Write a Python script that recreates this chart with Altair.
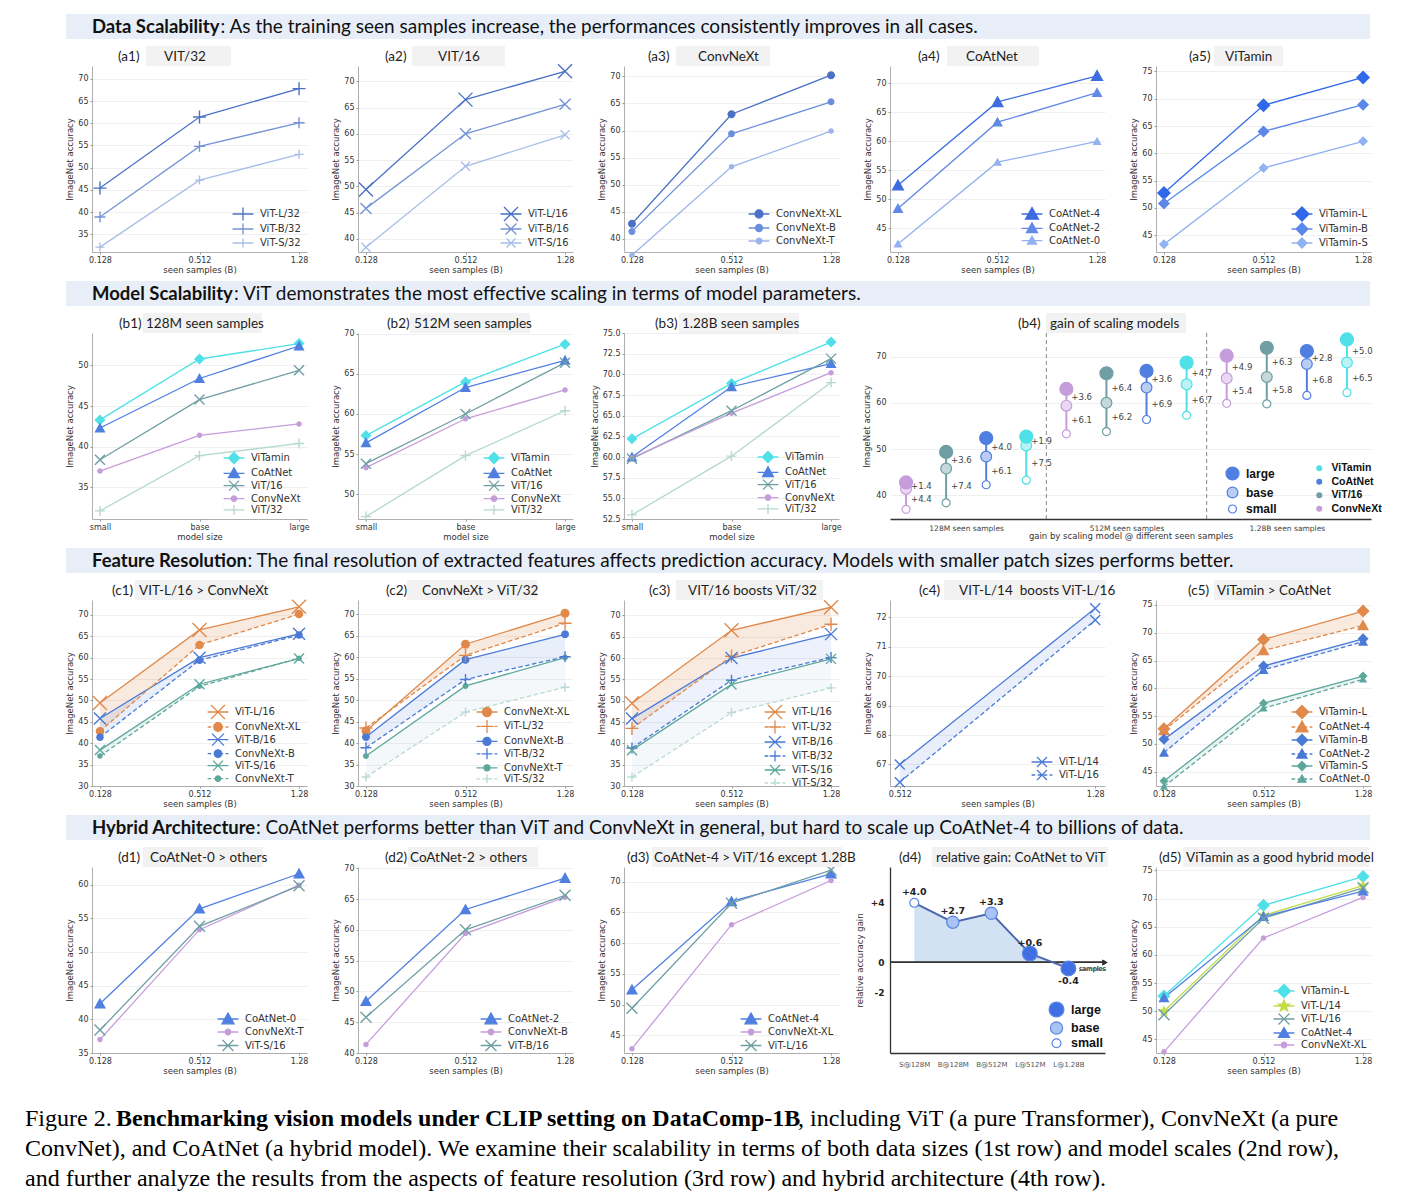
import json
import math

import altair as alt
import pandas as pd

# ---------------------------------------------------------------------------
# Data
# ---------------------------------------------------------------------------
SEEN = ["0.128", "0.512", "1.28"]
SEEN_LATE = ["0.512", "1.28"]
MODEL_SIZE = ["small", "base", "large"]

# (a) data scalability
A1_VIT32 = {"ViT-L/32": [45.4, 61.4, 67.8], "ViT-B/32": [38.9, 54.8, 60.1], "ViT-S/32": [32.1, 47.2, 53.0]}
A2_VIT16 = {"ViT-L/16": [49.4, 66.5, 71.9], "ViT-B/16": [45.8, 60.0, 65.6], "ViT-S/16": [38.4, 53.8, 59.8]}
A3_CONVNEXT = {"ConvNeXt-XL": [42.8, 63.0, 70.2], "ConvNeXt-B": [41.4, 59.4, 65.3], "ConvNeXt-T": [37.0, 53.3, 59.9]}
A4_COATNET = {"CoAtNet-4": [52.4, 66.8, 71.3], "CoAtNet-2": [48.4, 63.3, 68.4], "CoAtNet-0": [42.3, 56.4, 60.0]}
A5_VITAMIN = {"ViTamin-L": [52.7, 68.8, 73.9], "ViTamin-B": [50.8, 64.0, 68.9], "ViTamin-S": [43.3, 57.3, 62.2]}

# (b) model scalability: small / base / large
B_FAMILIES = ["ViTamin", "CoAtNet", "ViT/16", "ConvNeXt", "ViT/32"]
B1_128M = [[43.3, 50.8, 52.7], [42.3, 48.4, 52.4], [38.4, 45.8, 49.4], [37.0, 41.4, 42.8], [32.1, 38.9, 40.4]]
B2_512M = [[57.3, 64.0, 68.7], [56.4, 63.3, 66.7], [53.8, 60.0, 66.4], [53.3, 59.4, 63.0], [47.2, 54.8, 60.4]]
B3_128B = [[62.2, 68.9, 73.9], [60.0, 68.5, 71.3], [59.8, 65.6, 71.9], [59.9, 65.3, 70.2], [53.0, 60.1, 69.0]]

# (b4) gain of scaling models
B4_MODELS = ["ConvNeXt", "ViT/16", "CoAtNet", "ViTamin"]
B4_SEEN = ["128M seen samples", "512M seen samples", "1.28B seen samples"]
B4_SMALL = [[37.0, 38.4, 42.3, 43.3], [53.3, 53.8, 56.4, 57.3], [59.9, 59.8, 61.6, 62.2]]
B4_BASE = [[41.4, 45.8, 48.4, 50.8], [59.4, 60.0, 63.3, 64.0], [65.3, 65.6, 68.4, 68.7]]
B4_LARGE = [[42.8, 49.4, 52.4, 52.7], [63.0, 66.4, 66.9, 68.7], [70.2, 71.9, 71.2, 73.7]]

# (c) feature resolution
VIT_L16 = [49.4, 66.5, 71.9]
VIT_B16 = [45.8, 60.0, 65.6]
VIT_S16 = [38.4, 53.8, 59.8]
VIT_L32 = [43.5, 60.4, 67.9]
VIT_B32 = [38.9, 54.8, 60.1]
VIT_S32 = [32.1, 47.2, 53.0]
CNX_XL = [42.8, 63.0, 70.2]
CNX_B = [41.4, 59.4, 65.3]
CNX_T = [37.0, 53.3, 59.9]
C4_VIT_L14 = [67.0, 72.3]
C4_VIT_L16 = [66.4, 71.9]
VITAMIN_L = [52.7, 68.8, 73.9]
VITAMIN_B = [50.8, 64.0, 68.9]
VITAMIN_S = [43.3, 57.3, 62.2]
COAT_4 = [52.4, 66.8, 71.3]
COAT_2 = [48.4, 63.3, 68.4]
COAT_0 = [42.3, 56.4, 61.6]

# (d) hybrid architecture
VIT_L14 = [50.0, 67.0, 72.3]
D4_POINTS = ["S@128M", "B@128M", "B@512M", "L@512M", "L@1.28B"]
D4_GAIN = [4.0, 2.7, 3.3, 0.6, -0.4]
D4_STAGE = ["small", "base", "base", "large", "large"]

HEADERS = [
    ("Data Scalability", ": As the training seen samples increase, the performances consistently improves in all cases."),
    ("Model Scalability", ": ViT demonstrates the most effective scaling in terms of model parameters."),
    ("Feature Resolution", ": The final resolution of extracted features affects prediction accuracy. Models with smaller patch sizes performs better."),
    ("Hybrid Architecture", ": CoAtNet performs better than ViT and ConvNeXt in general, but hard to scale up CoAtNet-4 to billions of data."),
]
CAPTION_L1 = ["Figure 2. ", "Benchmarking vision models under CLIP setting on DataComp-1B",
              ", including ViT (a pure Transformer), ConvNeXt (a pure"]
CAPTION_L2 = "ConvNet), and CoAtNet (a hybrid model). We examine their scalability in terms of both data sizes (1st row) and model scales (2nd row),"
CAPTION_L3 = "and further analyze the results from the aspects of feature resolution (3rd row) and hybrid architecture (4th row)."

# ---------------------------------------------------------------------------
# Style
# ---------------------------------------------------------------------------
PW, PH = 215, 186
GAP = 51
B4_W = 481
TITLE_FONT = "Lato"
TICK_FONT = "DejaVu Sans"

L_BLUE, M_BLUE, S_BLUE = "#4a71c6", "#7593d6", "#a9bee8"
T_BLUE = ["#3d6de0", "#6189e6", "#93b1f0"]
D_BLUE = ["#2f68e8", "#5b88e8", "#91b2f2"]
VITAMIN_C, COATNET_C, VIT16_C, CONVNEXT_C, VIT32_C = "#4fe1e7", "#4f7fe0", "#6f9fa4", "#c69ddb", "#b5d9cc"
ORANGE, BLUE, TEAL, PALE = "#e0894b", "#4a7ad6", "#5ea79c", "#b8dad2"
STAR_C = "#c2dc4b"

FILLED_KINDS = {"o", "^", "D", "*"}
LEG_UNIT = 4.0  # px per path unit for legend symbols of size 64


def marker_path(kind, r):
    if kind == "x":
        return f"M{-r:.3f},{-r:.3f}L{r:.3f},{r:.3f}M{-r:.3f},{r:.3f}L{r:.3f},{-r:.3f}"
    if kind == "+":
        return f"M{-r:.3f},0L{r:.3f},0M0,{-r:.3f}L0,{r:.3f}"
    if kind == "o":
        return f"M{r:.3f},0A{r:.3f},{r:.3f},0,1,1,{-r:.3f},0A{r:.3f},{r:.3f},0,1,1,{r:.3f},0Z"
    if kind == "^":
        return f"M0,{-r:.3f}L{r:.3f},{0.8 * r:.3f}L{-r:.3f},{0.8 * r:.3f}Z"
    if kind == "D":
        return f"M0,{-r:.3f}L{r:.3f},0L0,{r:.3f}L{-r:.3f},0Z"
    pts = []
    for k in range(10):
        ang = -math.pi / 2 + k * math.pi / 5
        rr = r if k % 2 == 0 else r * 0.45
        pts.append(f"{rr * math.cos(ang):.3f},{rr * math.sin(ang):.3f}")
    return "M" + "L".join(pts) + "Z"


def legend_path(kind, d, dashed):
    if dashed:
        line = "M-2.6,0L-1.7,0M-1.1,0L-0.2,0M0.4,0L1.3,0M1.9,0L2.6,0"
    else:
        line = "M-2.6,0L2.6,0"
    return line + marker_path(kind, d / 2 / LEG_UNIT)


def tint(hex_color, amount):
    h = hex_color.lstrip("#")
    rgb = [int(h[i:i + 2], 16) for i in (0, 2, 4)]
    rgb = [round(c + (255 - c) * amount) for c in rgb]
    return "#%02x%02x%02x" % tuple(rgb)


def title_layers(spec):
    """Panel heading: '(tag)' followed by the name on a light grey tab."""
    tag, name, tag_x, name_x, box_x0, box_x1 = spec
    d = pd.DataFrame({"tag": [f"({tag})"], "name": [name]})
    tab = alt.Chart(d).mark_rect(color="#f2f2f2").encode(
        x=alt.value(box_x0), x2=alt.value(box_x1), y=alt.value(-20), y2=alt.value(0))
    style = dict(align="left", baseline="middle", font=TITLE_FONT, fontSize=13.5, color="#1e1e1e")
    t_tag = alt.Chart(d).mark_text(**style).encode(x=alt.value(tag_x), y=alt.value(-9.5), text="tag:N")
    t_name = alt.Chart(d).mark_text(**style).encode(x=alt.value(name_x), y=alt.value(-9.5), text="name:N")
    return [tab, t_tag, t_name]


def x_axis(title):
    return alt.Axis(title=title, labelAngle=0, grid=False, tickSize=2, labelPadding=2, titlePadding=1)


def y_axis(values, fmt="d", title="ImageNet accuracy"):
    return alt.Axis(values=values, format=fmt, title=title, grid=True, tickSize=2, labelPadding=2, titlePadding=3)


def line_panel(title, xcats, xtitle, series, ydom, yticks, leg, fills=(), yfmt="d", xpad=0.08, rowpad=-2.5):
    """series items: (name, values, colour, dashed, marker, marker diameter px)."""
    names = [s[0] for s in series]
    values = {s[0]: s[1] for s in series}
    recs = []
    for name, vals, color, dashed, kind, d in series:
        for xc, v in zip(xcats, vals):
            recs.append({"x": xc, "y": v, "series": name, "dashed": dashed,
                         "filled": kind in FILLED_KINDS, "shape": marker_path(kind, 1.0), "msize": d * d})
    df = pd.DataFrame(recs)
    cscale = alt.Scale(domain=names, range=[s[2] for s in series])
    x = alt.X("x:N", sort=xcats, scale=alt.Scale(type="point", padding=xpad), axis=x_axis(xtitle))
    y = alt.Y("y:Q", scale=alt.Scale(domain=ydom, nice=False, zero=False), axis=y_axis(yticks, yfmt))

    layers = []
    for upper, lower, color, op in fills:
        fd = pd.DataFrame({"x": xcats, "y": values[upper], "y2": values[lower]})
        layers.append(alt.Chart(fd).mark_area(color=color, opacity=op).encode(x=x, y=y, y2="y2:Q"))

    layers.append(alt.Chart(df).transform_filter("!datum.dashed").mark_line(strokeWidth=1.3).encode(
        x=x, y=y, color=alt.Color("series:N", scale=cscale, legend=None)))
    if any(s[3] for s in series):
        layers.append(alt.Chart(df).transform_filter("datum.dashed").mark_line(
            strokeWidth=1.3, strokeDash=[4.5, 2.5]).encode(
            x=x, y=y, color=alt.Color("series:N", scale=cscale, legend=None)))
    pt = dict(x=x, y=y, color=alt.Color("series:N", scale=cscale, legend=None),
              shape=alt.Shape("shape:N", scale=None), size=alt.Size("msize:Q", scale=None))
    layers.append(alt.Chart(df).transform_filter("datum.filled").mark_point(filled=True, opacity=1).encode(**pt))
    layers.append(alt.Chart(df).transform_filter("!datum.filled").mark_point(
        filled=False, opacity=1, strokeWidth=1.4).encode(**pt))

    # legend: a line sample with its marker, carried by a transparent layer
    cx, cy = leg
    legend = alt.Legend(title=None, orient="none", legendX=cx - 6, legendY=cy - 7, symbolSize=64,
                        symbolStrokeWidth=1.3, symbolOpacity=1, labelFontSize=10, labelOffset=12,
                        rowPadding=rowpad, padding=2)
    leg_df = df.drop_duplicates("series")
    layers.append(alt.Chart(leg_df).mark_point(filled=False, opacity=0).encode(
        x=x, y=y,
        stroke=alt.Stroke("series:N", scale=alt.Scale(domain=names, range=[s[2] for s in series]), legend=legend),
        fill=alt.Fill("series:N", scale=alt.Scale(
            domain=names, range=[s[2] if s[4] in FILLED_KINDS else "transparent" for s in series]), legend=legend),
        shape=alt.Shape("series:N", scale=alt.Scale(
            domain=names, range=[legend_path(s[4], s[5], s[3]) for s in series]), legend=legend),
    ))
    layers += title_layers(title)
    return alt.layer(*layers).resolve_scale(stroke="independent", fill="independent", shape="independent").properties(
        width=PW, height=PH)


def trio(d, colors, kind, sizes):
    return [(n, v, c, False, kind, s) for (n, v), c, s in zip(d.items(), colors, sizes)]


def family_series(rows):
    styles = [(VITAMIN_C, "D", 11), (COATNET_C, "^", 11), (VIT16_C, "x", 10), (CONVNEXT_C, "o", 5.5), (VIT32_C, "+", 10)]
    return [(n, v, c, False, k, s) for n, v, (c, k, s) in zip(B_FAMILIES, rows, styles)]


def gain_panel():
    order = ["ViTamin", "CoAtNet", "ViT/16", "ConvNeXt"]
    mcol = {"ConvNeXt": CONVNEXT_C, "ViT/16": VIT16_C, "CoAtNet": COATNET_C, "ViTamin": VITAMIN_C}
    pts, stems, labels = [], [], []
    for g in range(len(B4_SEEN)):
        for m, model in enumerate(B4_MODELS):
            pos = len(B4_MODELS) * g + m
            s, b, l = B4_SMALL[g][m], B4_BASE[g][m], B4_LARGE[g][m]
            for stage, v, fc in (("small", s, "#ffffff"), ("base", b, tint(mcol[model], 0.6)), ("large", l, mcol[model])):
                pts.append({"pos": pos, "y": v, "model": model, "stage": stage, "fillc": fc})
            stems.append({"pos": pos, "lo": s, "hi": l, "model": model})
            labels.append({"pos": pos, "y": (b + l) / 2, "text": f"+{l - b:.1f}"})
            labels.append({"pos": pos, "y": (s + b) / 2, "text": f"+{b - s:.1f}"})
    n = len(B4_MODELS)
    dividers = pd.DataFrame({"pos": [n * g - 0.5 for g in range(1, len(B4_SEEN))]})
    centers = [n * g + (n - 1) / 2 for g in range(len(B4_SEEN))]
    label_expr = "%s[round((datum.value - %s) / %d)]" % (json.dumps(B4_SEEN), centers[0], n)
    xsc = alt.Scale(domain=[-0.4, 11.6], nice=False, zero=False)
    xax = alt.Axis(values=centers, labelExpr=label_expr, title="gain by scaling model @ different seen samples",
                   grid=False, ticks=False, domainColor="#333", domainWidth=1.6, labelFontSize=7.5,
                   labelColor="#444", labelPadding=5, titlePadding=0)
    ysc = alt.Scale(domain=[34.9, 75.1], nice=False, zero=False)
    yax = alt.Axis(values=[40, 50, 60, 70], title="ImageNet accuracy", grid=True, ticks=False, domain=False,
                   labelPadding=4, titlePadding=4)
    x = alt.X("pos:Q", scale=xsc, axis=xax)
    stages = ["large", "base", "small"]
    size_scale = alt.Scale(domain=stages, range=[170, 64, 30])
    pdf = pd.DataFrame(pts)

    div = alt.Chart(dividers).mark_rule(strokeDash=[4, 3], color="#888", strokeWidth=1).encode(x=x)
    stem = alt.Chart(pd.DataFrame(stems)).mark_rule(strokeWidth=2).encode(
        x=x, y=alt.Y("lo:Q", scale=ysc, axis=yax), y2="hi:Q",
        color=alt.Color("model:N", scale=alt.Scale(domain=order, range=[mcol[m] for m in order]), legend=None))
    dots = alt.Chart(pdf).mark_point(filled=True, opacity=1, strokeWidth=1.2, shape="circle").encode(
        x=x, y=alt.Y("y:Q", scale=ysc, axis=yax),
        fill=alt.Fill("fillc:N", scale=None),
        stroke=alt.Stroke("model:N", scale=alt.Scale(domain=order, range=[mcol[m] for m in order]), legend=None),
        size=alt.Size("stage:O", sort=stages, scale=size_scale, legend=None))
    text = alt.Chart(pd.DataFrame(labels)).mark_text(align="left", baseline="middle", dx=5, fontSize=8.5,
                                                     font=TICK_FONT, color="#444").encode(
        x=x, y=alt.Y("y:Q", scale=ysc, axis=yax), text="text:N")

    model_leg = alt.Legend(title=None, orient="none", legendX=424, legendY=130, symbolType="circle",
                           symbolSize=36, symbolStrokeWidth=0, symbolOpacity=1, labelFont="Liberation Sans",
                           labelFontWeight="bold", labelFontSize=10.5, labelColor="#111", rowPadding=2.5,
                           labelOffset=7)
    stage_leg = alt.Legend(title=None, orient="none", legendX=335, legendY=133, symbolType="circle",
                           symbolStrokeWidth=1.2, symbolOpacity=1,
                           labelFont="Liberation Sans", labelFontWeight="bold", labelFontSize=12,
                           labelColor="#111", rowPadding=1, labelOffset=6)
    leg_models = alt.Chart(pdf.drop_duplicates("model")).mark_point(filled=True, opacity=0, shape="circle").encode(
        x=x, y=alt.Y("y:Q", scale=ysc, axis=yax),
        fill=alt.Fill("model:N", scale=alt.Scale(domain=order, range=[mcol[m] for m in order]), legend=model_leg))
    leg_stages = alt.Chart(pdf.drop_duplicates("stage")).mark_point(filled=True, opacity=0, shape="circle").encode(
        x=x, y=alt.Y("y:Q", scale=ysc, axis=yax),
        fill=alt.Fill("stage:N", scale=alt.Scale(domain=stages, range=[COATNET_C, tint(COATNET_C, 0.6), "#ffffff"]),
                      legend=stage_leg),
        stroke=alt.Stroke("stage:N", scale=alt.Scale(domain=stages, range=[COATNET_C] * 3), legend=stage_leg),
        size=alt.Size("stage:O", sort=stages, scale=size_scale, legend=stage_leg))
    heading = title_layers(("b4", "gain of scaling models", 128, 160, 156, 296))
    return alt.layer(div, stem, dots, text, leg_stages, leg_models, *heading).resolve_scale(
        fill="independent", size="independent", stroke="independent").properties(width=B4_W, height=PH)


def relgain_panel():
    xs = list(range(len(D4_GAIN)))
    pos_area, neg_area = [], []
    for i, g in enumerate(D4_GAIN):
        if i > 0 and (D4_GAIN[i - 1] >= 0) != (g >= 0):
            g0 = D4_GAIN[i - 1]
            xc = (i - 1) + g0 / (g0 - g)
            pos_area.append({"x": xc, "y": 0.0})
            neg_area.append({"x": xc, "y": 0.0})
        (pos_area if g >= 0 else neg_area).append({"x": i, "y": g})
    stages = ["large", "base", "small"]
    blue, stroke, light = "#3f6fe2", "#5b86e5", "#a9c3f2"
    fills = {"large": blue, "base": light, "small": "#ffffff"}
    pts = pd.DataFrame({"x": xs, "y": D4_GAIN, "stage": D4_STAGE, "fillc": [fills[s] for s in D4_STAGE],
                        "text": [f"{g:+.1f}" for g in D4_GAIN], "up": [g >= 0 for g in D4_GAIN]})
    xsc = alt.Scale(domain=[-0.63, 4.95], nice=False, zero=False)
    xax = alt.Axis(values=xs, labelExpr="%s[datum.value]" % json.dumps(D4_POINTS), title=None, grid=False,
                   ticks=False, domainColor="#333", domainWidth=1.3, labelFontSize=7, labelColor="#555",
                   labelPadding=7)
    ysc = alt.Scale(domain=[-6.07, 6.4], nice=False, zero=False)
    yax = alt.Axis(values=[-2, 0, 4], labelExpr="datum.value > 0 ? '+' + datum.value : '' + datum.value",
                   title="relative accuracy gain", grid=False, ticks=False, domainColor="#333", domainWidth=1.3,
                   labelFontWeight="bold", labelFontSize=9, labelColor="#222", labelPadding=6, titlePadding=6)
    x = alt.X("x:Q", scale=xsc, axis=xax)
    y = alt.Y("y:Q", scale=ysc, axis=yax)
    size_scale = alt.Scale(domain=stages, range=[220, 80, 34])
    a_pos = alt.Chart(pd.DataFrame(pos_area)).mark_area(color="#d3e2f3").encode(x=x, y=y, y2=alt.datum(0))
    a_neg = alt.Chart(pd.DataFrame(neg_area)).mark_area(color="#fbd7c0").encode(x=x, y=y, y2=alt.datum(0))
    zero = alt.Chart(pts).mark_rule(color="#333", strokeWidth=1.2).encode(
        x=alt.value(0), x2=alt.value(PW - 1), y=alt.datum(0))
    arrow = alt.Chart(pts).mark_point(shape="triangle-right", filled=True, color="#333", size=30, opacity=1).encode(
        x=alt.value(PW), y=alt.datum(0))
    samples = alt.Chart(pts).mark_text(align="right", baseline="top", dy=4, fontSize=6.5, color="#666",
                                       font=TICK_FONT).encode(x=alt.value(PW + 1), y=alt.datum(0),
                                                              text=alt.value("samples"))
    line = alt.Chart(pts).mark_line(color="#4d67ae", strokeWidth=2).encode(x=x, y=y)
    dots = alt.Chart(pts).mark_point(filled=True, opacity=1, shape="circle", strokeWidth=1.2, stroke=stroke).encode(
        x=x, y=y, fill=alt.Fill("fillc:N", scale=None),
        size=alt.Size("stage:O", sort=stages, scale=size_scale, legend=None))
    lab_up = alt.Chart(pts).transform_filter("datum.up").mark_text(
        baseline="bottom", dy=-6, fontSize=9.5, fontWeight="bold", color="#222", font=TICK_FONT).encode(
        x=x, y=y, text="text:N")
    lab_dn = alt.Chart(pts).transform_filter("!datum.up").mark_text(
        baseline="top", dy=8, fontSize=9.5, fontWeight="bold", color="#222", font=TICK_FONT).encode(
        x=x, y=y, text="text:N")
    stage_leg = alt.Legend(title=None, orient="bottom-right", offset=2, symbolType="circle", symbolStrokeWidth=1.2,
                           symbolOpacity=1, labelFont="Liberation Sans",
                           labelFontWeight="bold", labelFontSize=12.5, labelColor="#111", rowPadding=-1, labelOffset=6)
    leg_layer = alt.Chart(pts.drop_duplicates("stage")).mark_point(filled=True, opacity=0, shape="circle").encode(
        x=x, y=y,
        fill=alt.Fill("stage:N", scale=alt.Scale(domain=stages, range=[blue, light, "#ffffff"]), legend=stage_leg),
        stroke=alt.Stroke("stage:N", scale=alt.Scale(domain=stages, range=[stroke] * 3), legend=stage_leg),
        size=alt.Size("stage:O", sort=stages, scale=size_scale, legend=stage_leg))
    heading = title_layers(("d4", "relative gain: CoAtNet to ViT", 9, 46, 42, 218))
    return alt.layer(a_pos, a_neg, zero, arrow, samples, line, dots, lab_up, lab_dn, leg_layer, *heading).resolve_scale(
        fill="independent", size="independent", stroke="independent").properties(width=PW, height=PH)


BAND_LEFT, BAND_RIGHT, BAND_H = -26, 1278, 25


def header(bold, rest, rest_x):
    d = pd.DataFrame({"b": [bold], "r": [rest]})
    band = alt.Chart(d).mark_rect(color="#e8eef8").encode(
        x=alt.value(BAND_LEFT), x2=alt.value(BAND_RIGHT), y=alt.value(0), y2=alt.value(BAND_H))
    t1 = alt.Chart(d).mark_text(align="left", baseline="middle", font=TITLE_FONT, fontSize=18.5,
                                fontWeight="bold", color="#111").encode(x=alt.value(0), y=alt.value(12.5), text="b:N")
    t2 = alt.Chart(d).mark_text(align="left", baseline="middle", font=TITLE_FONT, fontSize=19,
                                color="#111").encode(x=alt.value(rest_x), y=alt.value(12.5), text="r:N")
    return alt.layer(band, t1, t2).properties(width=BAND_RIGHT, height=BAND_H)


def caption():
    def line(text, x, y, bold=False):
        return alt.Chart(pd.DataFrame({"t": [text]})).mark_text(
            align="left", baseline="alphabetic", font="Liberation Serif", fontSize=24,
            fontWeight="bold" if bold else "normal", color="#000").encode(
            x=alt.value(x), y=alt.value(y), text="t:N")
    return alt.layer(
        line(CAPTION_L1[0], -67, 44), line(CAPTION_L1[1], 24, 44, True), line(CAPTION_L1[2], 706, 44),
        line(CAPTION_L2, -67, 74), line(CAPTION_L3, -67, 104),
    ).properties(width=BAND_RIGHT, height=108)


IND = dict(color="independent", stroke="independent", fill="independent", size="independent",
           shape="independent", opacity="independent", fillOpacity="independent", strokeDash="independent")


def row(*panels):
    return alt.hconcat(*panels, spacing=GAP, bounds="flush").resolve_scale(**IND)


# ---- row 1
a_sizes = {"+": [13, 11, 9], "x": [14, 11, 9], "o": [8, 7, 5.5], "^": [13, 11, 9], "D": [14, 12, 10]}
row1 = row(
    line_panel(("a1", "VIT/32", 26, 72, 54, 139), SEEN, "seen samples (B)",
               trio(A1_VIT32, [L_BLUE, M_BLUE, S_BLUE], "+", a_sizes["+"]), [31.0, 72.9],
               [35, 40, 45, 50, 55, 60, 65, 70], (150, 148), rowpad=-4.5),
    line_panel(("a2", "VIT/16", 27, 80, 54, 147), SEEN, "seen samples (B)",
               trio(A2_VIT16, [L_BLUE, M_BLUE, S_BLUE], "x", a_sizes["x"]), [37.5, 72.9],
               [40, 45, 50, 55, 60, 65, 70], (152, 148), rowpad=-4.5),
    line_panel(("a3", "ConvNeXt", 24, 74, 52, 146), SEEN, "seen samples (B)",
               trio(A3_CONVNEXT, [L_BLUE, "#6b8fdc", "#9ab4ea"], "o", a_sizes["o"]), [37.6, 71.9],
               [40, 45, 50, 55, 60, 65, 70], (134, 148), rowpad=0),
    line_panel(("a4", "CoAtNet", 28, 76, 57, 149), SEEN, "seen samples (B)",
               trio(A4_COATNET, T_BLUE, "^", a_sizes["^"]), [40.9, 73.0],
               [45, 50, 55, 60, 65, 70], (141, 148), rowpad=-2.7),
    line_panel(("a5", "ViTamin", 33, 69, 58, 127), SEEN, "seen samples (B)",
               trio(A5_VITAMIN, D_BLUE, "D", a_sizes["D"]), [41.9, 76.0],
               [45, 50, 55, 60, 65, 70, 75], (145, 148), rowpad=-4.5),
)

# ---- row 2
row2 = row(
    line_panel(("b1", "128M seen samples", 27, 54, 51, 170), MODEL_SIZE, "model size",
               family_series(B1_128M), [31.1, 54.0], [35, 40, 45, 50], (141, 125), rowpad=-2.7),
    line_panel(("b2", "512M seen samples", 29, 56, 52, 172), MODEL_SIZE, "model size",
               family_series(B2_512M), [46.9, 70.1], [50, 55, 60, 65, 70], (135, 125), rowpad=-2.7),
    line_panel(("b3", "1.28B seen samples", 31, 58, 55, 175), MODEL_SIZE, "model size",
               family_series(B3_128B), [52.5, 75.0], [52.5, 55.0, 57.5, 60.0, 62.5, 65.0, 67.5, 70.0, 72.5, 75.0],
               (143, 124), yfmt=".1f", rowpad=-2.7),
    gain_panel(),
)

# ---- row 3
c1 = [("ViT-L/16", VIT_L16, ORANGE, False, "x", 14), ("ConvNeXt-XL", CNX_XL, ORANGE, True, "o", 8.5),
      ("ViT-B/16", VIT_B16, BLUE, False, "x", 12), ("ConvNeXt-B", CNX_B, BLUE, True, "o", 7.5),
      ("ViT-S/16", VIT_S16, TEAL, False, "x", 10), ("ConvNeXt-T", CNX_T, TEAL, True, "o", 5.5)]
c2 = [("ConvNeXt-XL", CNX_XL, ORANGE, False, "o", 9), ("ViT-L/32", VIT_L32, ORANGE, True, "+", 13),
      ("ConvNeXt-B", CNX_B, BLUE, False, "o", 8), ("ViT-B/32", VIT_B32, BLUE, True, "+", 11),
      ("ConvNeXt-T", CNX_T, TEAL, False, "o", 6), ("ViT-S/32", VIT_S32, PALE, True, "+", 9)]
c3 = [("ViT-L/16", VIT_L16, ORANGE, False, "x", 14), ("ViT-L/32", VIT_L32, ORANGE, True, "+", 13),
      ("ViT-B/16", VIT_B16, BLUE, False, "x", 12), ("ViT-B/32", VIT_B32, BLUE, True, "+", 11),
      ("ViT-S/16", VIT_S16, TEAL, False, "x", 10), ("ViT-S/32", VIT_S32, PALE, True, "+", 9)]
c4 = [("ViT-L/14", C4_VIT_L14, BLUE, False, "x", 10), ("ViT-L/16", C4_VIT_L16, BLUE, True, "x", 10)]
c5 = [("ViTamin-L", VITAMIN_L, ORANGE, False, "D", 13), ("CoAtNet-4", COAT_4, ORANGE, True, "^", 12),
      ("ViTamin-B", VITAMIN_B, BLUE, False, "D", 11), ("CoAtNet-2", COAT_2, BLUE, True, "^", 10),
      ("ViTamin-S", VITAMIN_S, TEAL, False, "D", 9), ("CoAtNet-0", COAT_0, TEAL, True, "^", 8)]
ticks30 = [30, 35, 40, 45, 50, 55, 60, 65, 70]
row3 = row(
    line_panel(("c1", "VIT-L/16 > ConvNeXt", 20, 47, 43, 173), SEEN, "seen samples (B)", c1, [30, 73.5], ticks30,
               (125, 112), fills=[("ViT-L/16", "ConvNeXt-XL", ORANGE, 0.18), ("ViT-B/16", "ConvNeXt-B", BLUE, 0.12),
                                  ("ViT-S/16", "ConvNeXt-T", TEAL, 0.12)], rowpad=-3.4),
    line_panel(("c2", "ConvNeXt > ViT/32", 28, 64, 49, 179), SEEN, "seen samples (B)", c2, [30, 73.3], ticks30,
               (128, 112), fills=[("ConvNeXt-XL", "ViT-L/32", ORANGE, 0.18), ("ConvNeXt-B", "ViT-B/32", BLUE, 0.12),
                                  ("ConvNeXt-T", "ViT-S/32", "#a9c9dc", 0.12)], rowpad=-3.6),
    line_panel(("c3", "VIT/16 boosts ViT/32", 25, 64, 52, 199), SEEN, "seen samples (B)", c3, [30, 73.6], ticks30,
               (150, 112), fills=[("ViT-L/16", "ViT-L/32", ORANGE, 0.18), ("ViT-B/16", "ViT-B/32", BLUE, 0.1),
                                  ("ViT-S/16", "ViT-S/32", "#a9c9dc", 0.12)], rowpad=-5.4),
    line_panel(("c4", "VIT-L/14\u00a0\u00a0boosts ViT-L/16", 29, 69, 54, 216), SEEN_LATE, "seen samples (B)", c4,
               [66.27, 72.58], [67, 68, 69, 70, 71, 72], (151, 162), fills=[("ViT-L/14", "ViT-L/16", BLUE, 0.12)],
               xpad=0.05, rowpad=-3),
    line_panel(("c5", "ViTamin > CoAtNet", 32, 61, 58, 156), SEEN, "seen samples (B)", c5, [42.4, 75.9],
               [45, 50, 55, 60, 65, 70, 75], (145, 112),
               fills=[("ViTamin-L", "CoAtNet-4", ORANGE, 0.18), ("ViTamin-B", "CoAtNet-2", BLUE, 0.12),
                      ("ViTamin-S", "CoAtNet-0", TEAL, 0.12)], rowpad=-4.2),
)

# ---- row 4
d1 = [("CoAtNet-0", COAT_0, COATNET_C, False, "^", 12), ("ConvNeXt-T", CNX_T, CONVNEXT_C, False, "o", 5.5),
      ("ViT-S/16", VIT_S16, VIT16_C, False, "x", 11)]
d2 = [("CoAtNet-2", COAT_2, COATNET_C, False, "^", 12), ("ConvNeXt-B", CNX_B, CONVNEXT_C, False, "o", 5.5),
      ("ViT-B/16", VIT_B16, VIT16_C, False, "x", 11)]
d3 = [("CoAtNet-4", COAT_4, COATNET_C, False, "^", 12), ("ConvNeXt-XL", CNX_XL, CONVNEXT_C, False, "o", 5.5),
      ("ViT-L/16", VIT_L16, VIT16_C, False, "x", 11)]
d5 = [("ViTamin-L", VITAMIN_L, VITAMIN_C, False, "D", 13), ("ViT-L/14", VIT_L14, STAR_C, False, "*", 12),
      ("ViT-L/16", VIT_L16, VIT16_C, False, "x", 11), ("CoAtNet-4", COAT_4, COATNET_C, False, "^", 11),
      ("ConvNeXt-XL", CNX_XL, CONVNEXT_C, False, "o", 5.5)]
row4 = row(
    line_panel(("d1", "CoAtNet-0 > others", 26, 58, 51, 171), SEEN, "seen samples (B)", d1, [35, 62.6],
               [35, 40, 45, 50, 55, 60], (135, 152), rowpad=-1.5),
    line_panel(("d2", "CoAtNet-2 > others", 27, 52, 50, 180), SEEN, "seen samples (B)", d2, [40, 70.2],
               [40, 45, 50, 55, 60, 65, 70], (132, 152), rowpad=-1.5),
    line_panel(("d3", "CoAtNet-4 > ViT/16 except 1.28B", 3, 30, 28, 218), SEEN, "seen samples (B)", d3,
               [42.1, 72.4], [45, 50, 55, 60, 65, 70], (126, 152), rowpad=-1.5),
    relgain_panel(),
    line_panel(("d5", "ViTamin as a good hybrid model", 3, 30, 27, 213), SEEN, "seen samples (B)", d5, [42.6, 75.6],
               [45, 50, 55, 60, 65, 70, 75], (127, 124), rowpad=-4.2),
)

rest_x = [128.5, 142, 155.5, 164]
heads = [header(b, r, x) for (b, r), x in zip(HEADERS, rest_x)]

chart = alt.vconcat(
    heads[0], row1, heads[1], row2, heads[2], row3, heads[3], row4, caption(), spacing=7,
).resolve_scale(**IND).properties(
    padding={"left": 25, "top": 14, "right": 5, "bottom": 2}, background="white",
).configure_view(strokeWidth=0).configure_axis(
    labelFont=TICK_FONT, labelFontSize=8, labelColor="#333", titleFont=TICK_FONT, titleFontSize=8.5,
    titleFontWeight="normal", titleColor="#333", domainColor="#9a9a9a", domainWidth=0.8,
    tickColor="#9a9a9a", gridColor="#ebebeb", gridWidth=0.8,
).configure_legend(labelFont=TICK_FONT, labelColor="#333")

chart.save("out.html", embed_options={"renderer": "svg", "actions": False})
